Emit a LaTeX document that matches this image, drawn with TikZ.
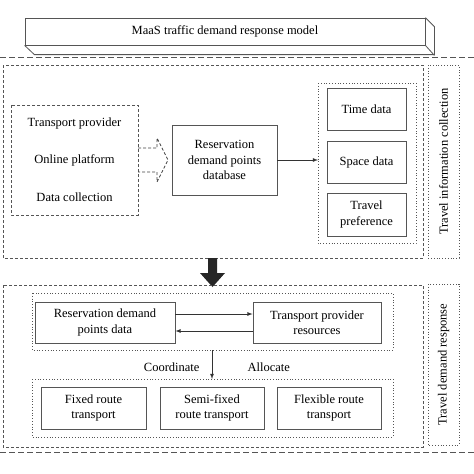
\documentclass[tikz,border=0pt]{standalone}
\usepackage{fontspec}
\setmainfont{Liberation Serif}
\usetikzlibrary{calc}
\definecolor{linegray}{RGB}{85,85,85}

\begin{document}
\begin{tikzpicture}[x=1pt,y=-1pt,
  font=\fontsize{12.5}{15.5}\selectfont,
  box/.style={draw=linegray, thick, align=center, inner sep=1pt},
  dashbox/.style={draw=linegray, thick, dash pattern=on 3pt off 2pt},
  dotbox/.style={draw=linegray, thick, dotted},
  arr/.style={draw=black!80, thick, -latex}]
\useasboundingbox (0,0) rectangle (474,474);

% title block
\node [box, minimum width=400pt, minimum height=27pt] (title) at (225,31.5) {MaaS traffic demand response model};
\draw [linegray, thick] (title.north east) -- ++(9,9) -- ++(0,28) -- ++(-400,0) -- (title.south west);
\draw [linegray, thick] (title.south east) -- ++(9,10);
\draw [linegray, thick, dash pattern=on 6pt off 3pt] (0,57) -- (474,57);
\draw [linegray, thick, dash pattern=on 6pt off 3pt] (0,452) -- (474,452);

% travel information collection
\draw [dashbox] (3,65) rectangle (423,258);
\draw [dotbox] (428,65) rectangle (459,258);
\node [rotate=90] (infolab) at (443.5,161.5) {Travel information collection};

\draw [dashbox] (11,105) rectangle (138,215);
\node (provider) at (74.5,123) {Transport provider};
\node (online) at (74.5,160) {Online platform};
\node (collect) at (74.5,197) {Data collection};
\coordinate (srcout) at (138,160);
\draw [black!75, thick, dash pattern=on 3pt off 2pt]
  ($(srcout)+(0,-12)$) -- ++(19,0) -- ++(0,-10) -- ($(srcout)+(30,0)$)
  -- ($(srcout)+(19,22)$) -- ++(0,-10) -- ($(srcout)+(0,12)$);

\node [box, minimum width=105pt, minimum height=70pt] (db) at (224.5,160) {Reservation\\demand points\\database};

\draw [dotbox] (318,83) rectangle (416,243);
\coordinate (attr) at (318,160);
\node [box, minimum width=79pt, minimum height=42pt] (time) at (366.5,109) {Time data};
\node [box, minimum width=79pt, minimum height=42pt] (space) at (366.5,162) {Space data};
\node [box, minimum width=79pt, minimum height=43pt] (pref) at (366.5,214.5) {Travel\\preference};
\draw [arr] (db.east) -- (attr);

% big arrow
\fill [black!85] (208,258) -- (217,258) -- (217,273) -- (225,273) -- (212.5,287)
  -- (200,273) -- (208,273) -- cycle;

% travel demand response
\draw [dashbox] (3,285) rectangle (423,447);
\draw [dotbox] (428,284) rectangle (459,445);
\node [rotate=90] (resplab) at (443.5,364.5) {Travel demand response};

\draw [dotbox] (32,293) rectangle (393,350);
\node [box, minimum width=140pt, minimum height=41pt] (rdp) at (105,322.5) {Reservation demand\\points data};
\node [box, minimum width=128pt, minimum height=41pt] (tpr) at (317,322.5) {Transport provider\\resources};
\draw [arr] ($(rdp.east)+(0,-8.5)$) -- ($(tpr.west)+(0,-8.5)$);
\draw [arr] ($(tpr.west)+(0,8.5)$) -- ($(rdp.east)+(0,8.5)$);

\coordinate (split) at (212,350);
\coordinate (modes) at (212,379);
\draw [arr] (split) -- (modes);
\node [anchor=east] (coord) at (203,367) {Coordinate};
\node [anchor=west] (alloc) at (244,367) {Allocate};

\draw [dotbox] (32,379) rectangle (393,437);
\node [box, minimum width=105pt, minimum height=42pt] (fixed) at (93.5,408) {Fixed route\\transport};
\node [box, minimum width=104pt, minimum height=42pt] (semi) at (212,408) {Semi-fixed\\route transport};
\node [box, minimum width=104pt, minimum height=42pt] (flex) at (329,408) {Flexible route\\transport};

\end{tikzpicture}
\end{document}
